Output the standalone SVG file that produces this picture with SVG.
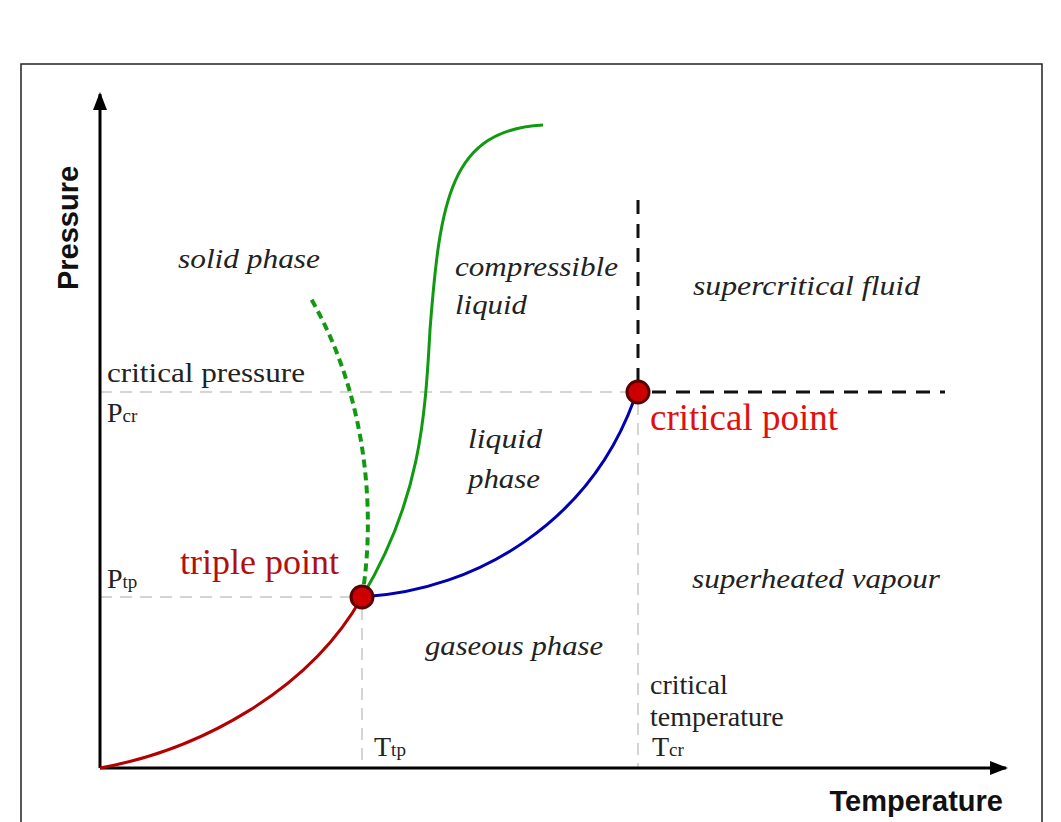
<svg xmlns="http://www.w3.org/2000/svg" width="1061" height="822" viewBox="0 0 1061 822">
<style>
.lbl{font-family:"Liberation Serif",serif;font-size:28px;fill:#222}
.it{font-style:italic}
.ax{font-family:"Liberation Sans",Arial,sans-serif;font-size:29px;font-weight:bold;fill:#111}
.guide{stroke:#d4d4d4;stroke-width:2;stroke-dasharray:12,8;fill:none}
.bd{stroke:#111;stroke-width:3;stroke-dasharray:14,10;fill:none}
.pt{fill:#cc0000;stroke:#5a0000;stroke-width:3}
</style>
<defs>
<marker id="arr" markerWidth="18" markerHeight="14" refX="16" refY="7" orient="auto" markerUnits="userSpaceOnUse"><path d="M0,0 L18,7 L0,14 z" fill="#000"/></marker>
</defs>
<rect width="1061" height="822" fill="#fff"/>
<path d="M21,822 V64 H1042 V822" fill="none" stroke="#222" stroke-width="1.5"/>
<g id="connectors">
<path class="guide" d="M100,392 H628 M100,597 H350 M362,608 V768 M638,403 V768"/>
<path class="bd" d="M638,200 V380 M652,392 H945"/>
<line x1="100" y1="768" x2="100" y2="94" stroke="#000" stroke-width="3" marker-end="url(#arr)"/>
<line x1="100" y1="768" x2="1006" y2="768" stroke="#000" stroke-width="3" marker-end="url(#arr)"/>
<path d="M100,768 C200,750 310,690 362,597" fill="none" stroke="#b30000" stroke-width="3"/>
<path d="M362,597 C480,590 590,520 634,400" fill="none" stroke="#0000b0" stroke-width="3"/>
<path d="M362,597 C420,500 425,420 430,330 C440,200 450,130 543,125" fill="none" stroke="#119a11" stroke-width="3"/>
<path d="M362,597 C375,520 370,400 310,297" fill="none" stroke="#119a11" stroke-width="4" stroke-dasharray="8,5"/>
</g>
<g id="triple-point"><circle class="pt" cx="362" cy="597" r="11"/><text class="lbl" x="180" y="574" style="fill:#b01010;font-size:36px">triple point</text></g>
<g id="critical-point"><circle class="pt" cx="638" cy="392" r="11"/><text class="lbl" x="650" y="430" style="fill:#e01010;font-size:37px">critical point</text></g>
<g id="labels" lengthAdjust="spacingAndGlyphs">
<text class="lbl it" x="178" y="268" textLength="142" lengthAdjust="spacingAndGlyphs">solid phase</text>
<text class="lbl it" x="455" y="276" textLength="163" lengthAdjust="spacingAndGlyphs">compressible</text>
<text class="lbl it" x="455" y="314" textLength="72" lengthAdjust="spacingAndGlyphs">liquid</text>
<text class="lbl it" x="693" y="295" textLength="227" lengthAdjust="spacingAndGlyphs">supercritical fluid</text>
<text class="lbl" x="107" y="382" textLength="198" lengthAdjust="spacingAndGlyphs">critical pressure</text>
<text class="lbl" x="107" y="422">P<tspan font-size="19">cr</tspan></text>
<text class="lbl it" x="468" y="448" textLength="74" lengthAdjust="spacingAndGlyphs">liquid</text>
<text class="lbl it" x="468" y="488" textLength="72" lengthAdjust="spacingAndGlyphs">phase</text>
<text class="lbl" x="107" y="588">P<tspan font-size="19">tp</tspan></text>
<text class="lbl it" x="692" y="588" textLength="248" lengthAdjust="spacingAndGlyphs">superheated vapour</text>
<text class="lbl it" x="425" y="655" textLength="178" lengthAdjust="spacingAndGlyphs">gaseous phase</text>
<text class="lbl" x="650" y="694">critical</text>
<text class="lbl" x="650" y="726">temperature</text>
<text class="lbl" x="652" y="756">T<tspan font-size="19">cr</tspan></text>
<text class="lbl" x="374" y="756">T<tspan font-size="19">tp</tspan></text>
<text class="ax" x="1003" y="811" text-anchor="end">Temperature</text>
<text class="ax" transform="translate(78,228) rotate(-90)" text-anchor="middle">Pressure</text>
</g>
</svg>
